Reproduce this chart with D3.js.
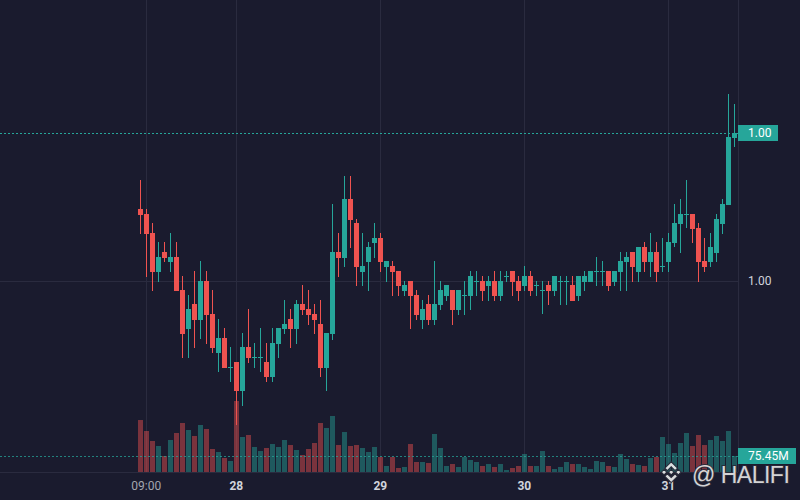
<!DOCTYPE html>
<html>
<head>
<meta charset="utf-8">
<script src="https://cdn.jsdelivr.net/npm/d3@7"></script>
<style>
  html, body { margin: 0; padding: 0; background: #1a1b2e; }
  #chart { width: 800px; height: 500px; }
  text { font-family: Roboto, "Noto Sans", sans-serif; }
</style>
</head>
<body>
<div id="chart"></div>
<script>
// Hourly candles, 27th 08:00 to 31st 11:00
const startTime = new Date(2024, 2, 27, 8);

const opens = [1.00072,1.00067,1.00048,1.00009,1.00029,1.00019,1.00024,0.99991,0.99952,0.99977,
  0.99961,1.00000,0.99967,0.99928,0.99943,0.99913,0.99919,0.99890,0.99934,0.99923,
  0.99923,0.99919,0.99904,0.99937,0.99952,0.99962,0.99952,0.99977,0.99972,0.99967,
  0.99957,0.99913,0.99947,1.00029,1.00023,1.00082,1.00058,1.00009,1.00019,1.00038,
  1.00043,1.00014,1.00015,1.00010,0.99990,1.00000,0.99986,0.99961,0.99977,0.99961,
  0.99976,0.99985,0.99991,0.99971,0.99985,0.99985,0.99999,1.00000,0.99995,1.00000,
  0.99985,1.00004,1.00010,1.00000,0.99995,1.00005,0.99995,0.99990,0.99996,0.99990,
  0.99999,0.99999,0.99996,0.99985,0.99999,0.99999,1.00009,1.00009,1.00010,0.99999,
  1.00009,1.00019,1.00029,1.00009,1.00034,1.00019,1.00029,1.00014,1.00019,1.00038,
  1.00057,1.00066,1.00067,1.00053,1.00020,1.00019,1.00028,1.00057,1.00076,1.00143];

const highs = [1.00101,1.00072,1.00058,1.00039,1.00039,1.00048,1.00039,1.00005,0.99986,1.00010,
  1.00020,1.00010,0.99991,0.99962,0.99953,0.99934,0.99919,0.99948,0.99972,0.99938,
  0.99953,0.99938,0.99953,0.99953,0.99981,0.99972,0.99981,0.99996,0.99991,0.99977,
  0.99981,0.99948,1.00077,1.00048,1.00105,1.00105,1.00062,1.00048,1.00039,1.00058,
  1.00048,1.00020,1.00020,1.00010,1.00000,1.00000,0.99991,0.99981,0.99986,1.00020,
  1.00000,0.99996,0.99991,0.99991,1.00000,1.00010,1.00010,1.00005,1.00005,1.00010,
  1.00010,1.00010,1.00010,1.00005,1.00015,1.00010,1.00000,1.00000,1.00000,1.00005,
  1.00005,1.00005,1.00005,1.00005,1.00010,1.00010,1.00024,1.00020,1.00010,1.00010,
  1.00029,1.00029,1.00029,1.00034,1.00039,1.00048,1.00039,1.00043,1.00048,1.00077,
  1.00082,1.00101,1.00067,1.00058,1.00043,1.00048,1.00067,1.00082,1.00187,1.00177];

const lows = [1.00047,1.00004,0.99990,0.99999,1.00019,1.00009,0.99990,0.99923,0.99923,0.99933,
  0.99942,0.99937,0.99928,0.99909,0.99913,0.99899,0.99856,0.99875,0.99918,0.99913,
  0.99909,0.99899,0.99899,0.99923,0.99947,0.99933,0.99937,0.99966,0.99956,0.99947,
  0.99904,0.99890,0.99941,1.00004,1.00014,1.00033,0.99995,0.99995,0.99990,1.00023,
  1.00009,0.99999,0.99985,0.99985,0.99985,0.99952,0.99961,0.99952,0.99956,0.99956,
  0.99971,0.99980,0.99956,0.99966,0.99966,0.99971,0.99985,0.99980,0.99980,0.99980,
  0.99980,0.99999,0.99985,0.99980,0.99990,0.99985,0.99985,0.99967,0.99976,0.99985,
  0.99976,0.99976,0.99980,0.99980,0.99990,0.99999,0.99995,0.99995,0.99990,0.99995,
  0.99990,0.99990,0.99999,0.99999,1.00009,1.00004,0.99999,1.00009,1.00009,1.00034,
  1.00028,1.00053,1.00038,0.99999,1.00009,1.00014,1.00019,1.00047,1.00076,1.00134];

const closes = [1.00066,1.00047,1.00009,1.00024,1.00023,1.00024,0.99990,0.99947,0.99972,0.99961,
  1.00000,0.99966,0.99933,0.99943,0.99913,0.99914,0.99890,0.99934,0.99923,0.99924,
  0.99924,0.99904,0.99938,0.99953,0.99957,0.99952,0.99977,0.99971,0.99966,0.99961,
  0.99913,0.99948,1.00029,1.00023,1.00082,1.00061,1.00014,1.00015,1.00034,1.00043,
  1.00019,1.00020,1.00009,0.99995,0.99996,0.99985,0.99966,0.99972,0.99961,0.99977,
  0.99991,0.99996,0.99971,0.99991,0.99986,1.00005,1.00000,0.99990,1.00000,0.99985,
  1.00000,1.00005,0.99999,0.99990,1.00005,0.99990,0.99996,0.99991,0.99990,1.00005,
  1.00000,1.00000,0.99980,1.00005,1.00005,1.00010,1.00010,1.00010,0.99995,1.00010,
  1.00020,1.00024,1.00014,1.00034,1.00019,1.00029,1.00009,1.00015,1.00039,1.00058,
  1.00067,1.00067,1.00052,1.00019,1.00014,1.00034,1.00062,1.00077,1.00144,1.00148];

// volume in millions
const volumes = [245.2,193.4,146.2,122.6,75.5,150.9,183.9,231.1,198.1,169.8,
  221.7,202.8,108.5,94.3,66.0,51.9,334.8,165.1,174.5,117.9,
  99.0,113.2,132.0,117.9,150.9,127.3,103.8,80.2,108.5,136.8,
  231.1,207.5,264.1,127.3,188.6,122.6,127.3,113.2,94.3,117.9,
  70.7,28.3,70.7,18.9,23.6,132.0,47.2,47.2,42.4,179.2,
  113.2,28.3,37.7,23.6,70.7,56.6,47.2,28.3,37.7,23.6,
  37.7,9.4,18.9,28.3,84.9,28.3,28.3,99.0,28.3,14.1,
  23.6,47.2,37.7,37.7,23.6,14.1,51.9,47.2,28.3,23.6,
  84.9,61.3,37.7,33.0,28.3,66.0,70.7,165.1,132.0,89.6,
  136.8,183.9,122.6,174.5,127.3,150.9,169.8,146.2,193.4,75.45];

const timeTicks = [new Date(2024, 2, 27, 9), new Date(2024, 2, 28), new Date(2024, 2, 29),
  new Date(2024, 2, 30), new Date(2024, 2, 31)];
const priceTicks = [1.00];

const width = 800, height = 500;
const paneRight = 738, paneBottom = 472;
const upColor = "#26a69a", downColor = "#ef5350";
const gridColor = "#2a2b3f";

const data = opens.map((o, i) => ({
    time: d3.timeHour.offset(startTime, i),
    open: o, high: highs[i], low: lows[i], close: closes[i],
    volume: volumes[i]
}));

const svg = d3.select("#chart")
    .append("svg")
    .attr("width", width)
    .attr("height", height)
    .attr("viewBox", `0 0 ${width} ${height}`);

svg.append("rect")
    .attr("width", width).attr("height", height)
    .attr("fill", "#1a1b2e");

// scales
const xScale = d3.scaleTime()
    .domain([data[0].time, data[data.length - 1].time])
    .range([140.3, 734.3]);

const yScale = d3.scaleLinear()
    .domain([1.0, 1.001])
    .range([281, 181]);

const vScale = d3.scaleLinear()
    .domain([0, 340])
    .range([paneBottom, paneBottom - 340 / 4.716]);

// grid
const grid = svg.append("g").attr("class", "grid");
grid.selectAll("line.v")
    .data(timeTicks)
    .join("line")
    .attr("class", "v")
    .attr("x1", d => Math.round(xScale(d)) + 0.5)
    .attr("x2", d => Math.round(xScale(d)) + 0.5)
    .attr("y1", 0).attr("y2", paneBottom)
    .attr("stroke", gridColor);

grid.selectAll("line.h")
    .data(priceTicks)
    .join("line")
    .attr("class", "h")
    .attr("x1", 0).attr("x2", paneRight)
    .attr("y1", d => Math.round(yScale(d)) + 0.5)
    .attr("y2", d => Math.round(yScale(d)) + 0.5)
    .attr("stroke", gridColor);

// pane borders
svg.append("line")
    .attr("x1", paneRight + 0.5).attr("x2", paneRight + 0.5)
    .attr("y1", 0).attr("y2", paneBottom)
    .attr("stroke", gridColor);
svg.append("line")
    .attr("x1", 0).attr("x2", paneRight)
    .attr("y1", paneBottom + 0.5).attr("y2", paneBottom + 0.5)
    .attr("stroke", gridColor);

const bodyW = 5;
const isUp = d => d.close >= d.open;

// volume bars
svg.append("g")
    .selectAll("rect")
    .data(data)
    .join("rect")
    .attr("x", d => Math.round(xScale(d.time) - bodyW / 2))
    .attr("y", d => vScale(d.volume))
    .attr("width", bodyW)
    .attr("height", d => paneBottom - vScale(d.volume))
    .attr("fill", d => isUp(d) ? upColor : downColor)
    .attr("opacity", 0.45);

// last volume line
const lastVol = volumes[volumes.length - 1];
svg.append("line")
    .attr("x1", 0).attr("x2", paneRight)
    .attr("y1", Math.round(vScale(lastVol)) + 0.5)
    .attr("y2", Math.round(vScale(lastVol)) + 0.5)
    .attr("stroke", upColor)
    .attr("stroke-opacity", 0.75)
    .attr("stroke-dasharray", "2,2");

// candles
const candles = svg.append("g")
    .selectAll("g")
    .data(data)
    .join("g")
    .attr("fill", d => isUp(d) ? upColor : downColor);

candles.append("rect")
    .attr("x", d => Math.round(xScale(d.time)))
    .attr("y", d => yScale(d.high))
    .attr("width", 1)
    .attr("height", d => yScale(d.low) - yScale(d.high));

candles.append("rect")
    .attr("x", d => Math.round(xScale(d.time) - bodyW / 2))
    .attr("y", d => yScale(Math.max(d.open, d.close)))
    .attr("width", bodyW)
    .attr("height", d => Math.max(1, Math.abs(yScale(d.open) - yScale(d.close))));

// last price line
const lastClose = closes[closes.length - 1];
svg.append("line")
    .attr("x1", 0).attr("x2", paneRight)
    .attr("y1", Math.round(yScale(lastClose)) + 0.5)
    .attr("y2", Math.round(yScale(lastClose)) + 0.5)
    .attr("stroke", upColor)
    .attr("stroke-dasharray", "2,2");

// price axis
svg.append("g")
    .selectAll("text")
    .data(priceTicks)
    .join("text")
    .attr("x", 748)
    .attr("y", d => yScale(d))
    .attr("dy", "0.35em")
    .attr("fill", "#d1d4dc")
    .style("font-size", "12px")
    .text(d => d3.format(".2f")(d));

const priceTag = svg.append("g")
    .attr("transform", `translate(${paneRight}, ${yScale(lastClose) - 8})`);
priceTag.append("rect")
    .attr("width", 40).attr("height", 16)
    .attr("fill", upColor);
priceTag.append("text")
    .attr("x", 10).attr("y", 8).attr("dy", "0.35em")
    .attr("fill", "#ffffff")
    .style("font-size", "12px")
    .text(d3.format(".2f")(lastClose));

const volTag = svg.append("g")
    .attr("transform", `translate(${paneRight}, ${vScale(lastVol) - 8})`);
volTag.append("rect")
    .attr("width", 58).attr("height", 16)
    .attr("fill", upColor);
volTag.append("text")
    .attr("x", 10).attr("y", 8).attr("dy", "0.35em")
    .attr("fill", "#ffffff")
    .style("font-size", "12px")
    .text(d3.format(".2f")(lastVol) + "M");

// time axis
const timeLabel = d => d.getHours() === 0 ? d3.timeFormat("%d")(d) : d3.timeFormat("%H:%M")(d);
svg.append("g")
    .selectAll("text")
    .data(timeTicks)
    .join("text")
    .attr("x", d => xScale(d))
    .attr("y", 486)
    .attr("dy", "0.35em")
    .attr("text-anchor", "middle")
    .attr("fill", d => d.getHours() === 0 ? "#d1d4dc" : "#a3a6af")
    .style("font-size", "12px")
    .style("font-weight", d => d.getHours() === 0 ? "bold" : "normal")
    .text(timeLabel);

// watermark
const mark = svg.append("g")
    .attr("opacity", 0.9);
const logo = mark.append("g")
    .attr("transform", "translate(658, 459) scale(1.1)")
    .attr("fill", "#f0f0f0")
    .attr("stroke", "#2a2b3a")
    .attr("stroke-width", 1);
const logoShapes = [
    "M12,9.5L14.5,12L12,14.5L9.5,12Z",
    "M5.5,9.5L8,12L5.5,14.5L3,12Z",
    "M18.5,9.5L21,12L18.5,14.5L16,12Z",
    "M12,2.5L17.8,8.3L15.5,10.6L12,7.1L8.5,10.6L6.2,8.3Z",
    "M12,21.5L17.8,15.7L15.5,13.4L12,16.9L8.5,13.4L6.2,15.7Z"
];
logo.selectAll("path")
    .data(logoShapes)
    .join("path")
    .attr("d", d => d);

mark.append("text")
    .attr("x", 692)
    .attr("y", 483)
    .attr("fill", "#e8e8e8")
    .attr("stroke", "#2a2b3a")
    .attr("stroke-width", 2)
    .attr("paint-order", "stroke")
    .style("font-family", "'Liberation Sans', Arial, sans-serif")
    .style("font-size", "23px")
    .style("letter-spacing", "-0.5px")
    .text("@ HALIFI");
</script>
</body>
</html>
